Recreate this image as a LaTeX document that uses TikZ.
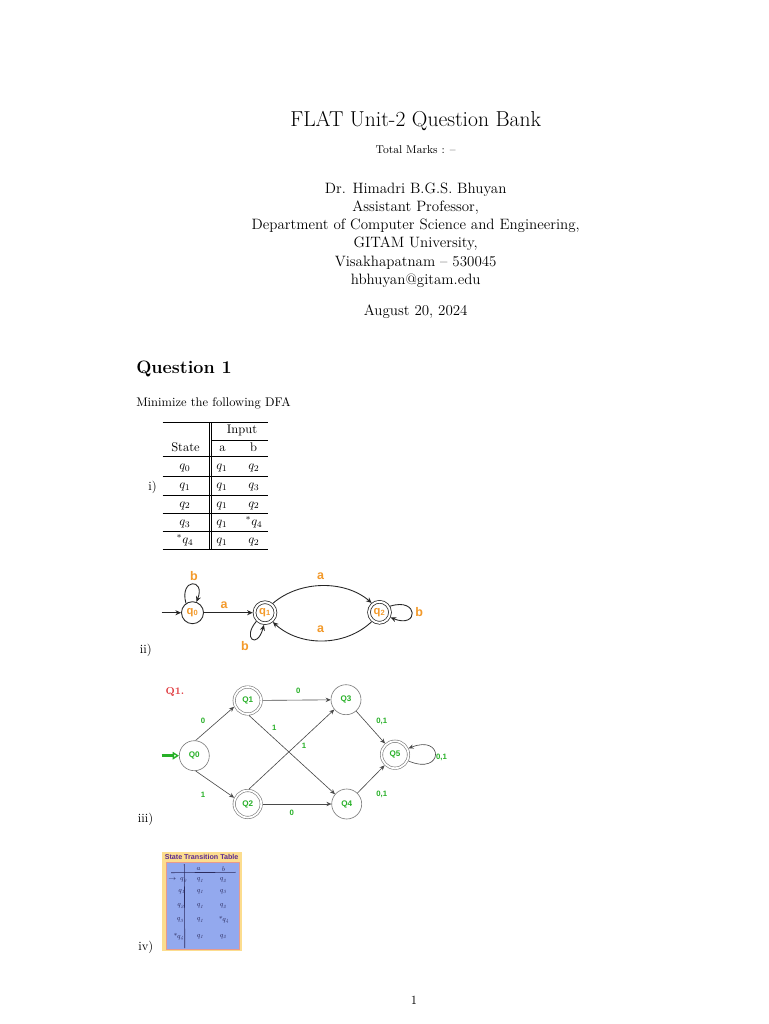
\documentclass[tikz,border=0pt]{standalone}
\usepackage{fontspec}
\newfontfamily\sansA{Liberation Sans}
\usetikzlibrary{arrows.meta}
\definecolor{orng}{HTML}{F39A2B}
\definecolor{grn}{HTML}{27B027}
\definecolor{redq}{HTML}{E0393E}
\definecolor{ylw}{HTML}{FCDD8E}
\definecolor{blu}{HTML}{93A9EE}
\definecolor{purp}{HTML}{5B2A8E}
\definecolor{ink}{HTML}{2B2B5E}
\definecolor{pinkb}{HTML}{E99A8A}
\definecolor{gryc}{HTML}{7C7C7C}
\definecolor{edgeg}{HTML}{4A4A4A}
\begin{document}
\begin{tikzpicture}[x=0.8pt,y=-0.8pt,
  txt/.style={inner sep=0pt, anchor=base},
  txtl/.style={inner sep=0pt, anchor=base west},
  txtr/.style={inner sep=0pt, anchor=base east},
  thinrule/.style={line width=0.5pt},
  thickrule/.style={line width=0.8pt},
  stA/.style={circle, draw=black!85, fill=white, line width=0.7pt, minimum size=17.6pt, inner sep=0pt, font=\sansA\bfseries\fontsize{9}{9}\selectfont, text=orng},
  accA/.style={stA, minimum size=16.8pt, double=white, double distance=1.6pt, line width=0.6pt, outer sep=1.4pt},
  arrA/.style={draw=black!85, line width=0.7pt, -{Stealth[length=4.5pt,width=4pt]}},
  lblA/.style={inner sep=0pt, font=\sansA\bfseries\fontsize{10}{10}\selectfont, text=orng},
  stB/.style={circle, draw=gryc, fill=white, line width=0.5pt, minimum size=24pt, inner sep=0pt, font=\sansA\bfseries\fontsize{6.5}{6.5}\selectfont, text=grn},
  accB/.style={stB, minimum size=21.6pt, double=white, double distance=1.4pt, outer sep=1.2pt},
  arrB/.style={draw=edgeg, line width=0.5pt, -{Stealth[length=4pt,width=3.5pt]}},
  lblB/.style={inner sep=0pt, font=\sansA\bfseries\fontsize{6.2}{6.2}\selectfont, text=grn},
  hand/.style={inner sep=0pt, font=\itshape\fontsize{5.5}{5.5}\selectfont, text=ink},
]
\useasboundingbox (0,0) rectangle (768,1024);
\fill[white] (0,0) rectangle (768,1024);

% ---------- title block ----------
\node[txt, font=\fontsize{17.28}{21}\selectfont] (title) at (415.7,126.7) {FLAT Unit-2 Question Bank};
\node[txt, font=\fontsize{9}{11}\selectfont] (marks) at (415.7,154) {Total Marks : \textendash};
\node[txt, font=\fontsize{12}{14.5}\selectfont] (au1) at (415.7,193.3) {Dr. Himadri B.G.S. Bhuyan};
\node[txt, font=\fontsize{12}{14.5}\selectfont] (au2) at (415.7,211.5) {Assistant Professor,};
\node[txt, font=\fontsize{12}{14.5}\selectfont] (au3) at (415.7,229.7) {Department of Computer Science and Engineering,};
\node[txt, font=\fontsize{12}{14.5}\selectfont] (au4) at (415.7,247.9) {GITAM University,};
\node[txt, font=\fontsize{12}{14.5}\selectfont] (au5) at (415.7,266.1) {Visakhapatnam \textendash\ 530045};
\node[txt, font=\fontsize{12}{14.5}\selectfont] (au6) at (415.7,284.3) {hbhuyan@gitam.edu};
\node[txt, font=\fontsize{12}{14.5}\selectfont] (date) at (415.7,315) {August 20, 2024};

\node[txtl, font=\bfseries\fontsize{14.4}{17}\selectfont] (qhead) at (136,373.3) {Question 1};
\node[txtl, font=\fontsize{10}{12}\selectfont] (qtext) at (136,406.7) {Minimize the following DFA};

% ---------- i) table ----------
\node[txtr, font=\fontsize{10}{12}\selectfont] (li) at (157,490.5) {i)};
\draw[thickrule] (162.7,422.3) -- (268,422.3);
\draw[thinrule] (211.7,440) -- (268,440);
\draw[thinrule] (162.7,456.7) -- (268,456.7);
\foreach \yy in {476,495,513.3,531.3} {\draw[thinrule] (162.7,\yy) -- (268,\yy);}
\draw[thickrule] (162.7,549) -- (268,549);
\draw[thinrule] (209,422.3) -- (209,549);
\draw[thinrule] (211.3,422.3) -- (211.3,549);
\begin{scope}[every node/.style={txt, font=\fontsize{10}{12}\selectfont}]
\node (hin) at (242,433.7) {Input};
\node (hst) at (185.5,451.5) {State};
\node (ha) at (222.5,451.5) {a};
\node (hb) at (253.5,451.5) {b};
\node (r0s) at (185,469.8) {$q_0$}; \node (r0a) at (222,469.8) {$q_1$}; \node (r0b) at (254,469.8) {$q_2$};
\node (r1s) at (185,488.8) {$q_1$}; \node (r1a) at (222,488.8) {$q_1$}; \node (r1b) at (254,488.8) {$q_3$};
\node (r2s) at (185,507) {$q_2$}; \node (r2a) at (222,507) {$q_1$}; \node (r2b) at (254,507) {$q_2$};
\node (r3s) at (185,525.2) {$q_3$}; \node (r3a) at (222,525.2) {$q_1$}; \node (r3b) at (254,525.2) {${}^*q_4$};
\node (r4s) at (185,543.4) {${}^*q_4$}; \node (r4a) at (222,543.4) {$q_1$}; \node (r4b) at (254,543.4) {$q_2$};
\end{scope}

% ---------- ii) diagram ----------
\node[txtr, font=\fontsize{10}{12}\selectfont] (lii) at (152,653) {ii)};
\node[stA] (q0) at (192.5,612.7) {q\textsubscript{0}};
\node[accA] (q1) at (265,612.7) {q\textsubscript{1}};
\node[accA] (q2) at (379.5,612.3) {q\textsubscript{2}};
\coordinate (inA) at (161.5,612.7);
\draw[arrA] (inA) -- (q0);
\draw[arrA] (q0) -- (q1);
\draw[arrA] (q1.50) .. controls (300,580) and (345,580) .. (q2.130);
\draw[arrA] (q2.230) .. controls (345,647) and (300,647) .. (q1.310);
\draw[arrA] (q0.125) .. controls (179,578) and (206,578) .. (q0.70);
\draw[arrA] (q1.225) .. controls (242,638) and (257,650) .. (q1.265);
\draw[arrA] (q2.30) .. controls (419,597) and (419,629) .. (q2.-25);
\node[lblA] (la1) at (194,576) {b};
\node[lblA] (la2) at (224,605) {a};
\node[lblA] (la3) at (320.7,576) {a};
\node[lblA] (la4) at (320.7,629.3) {a};
\node[lblA] (la5) at (245,646) {b};
\node[lblA] (la6) at (419.3,611.7) {b};

% ---------- iii) diagram ----------
\node[txtr, font=\fontsize{10}{12}\selectfont] (liii) at (153.5,822) {iii)};
\node[inner sep=0pt, font=\bfseries\fontsize{8}{8}\selectfont, text=redq] (qlab) at (175,692) {Q1.};
\node[stB] (Q0) at (194.3,755.7) {Q0};
\node[accB] (Q1) at (247.7,700.5) {Q1};
\node[accB] (Q2) at (247.7,804) {Q2};
\node[stB] (Q3) at (346,699.7) {Q3};
\node[stB] (Q4) at (346.7,804) {Q4};
\node[accB] (Q5) at (395,754.7) {Q5};
\coordinate (inB) at (161.7,755.7);
\draw[grn, line width=2.2pt, -{Triangle[open, length=5pt, width=6pt, line width=1.1pt]}] (inB) -- (Q0);
\draw[arrB] (Q0.85) -- (Q1.205);
\draw[arrB] (Q0.-85) -- (Q2.155);
\draw[arrB] (Q1) -- (Q3);
\draw[arrB] (Q1.-85) -- (Q4.140);
\draw[arrB] (Q2.85) -- (Q3.-140);
\draw[arrB] (Q2) -- (Q4);
\draw[arrB] (Q3) -- (Q5);
\draw[arrB] (Q4) -- (Q5);
\draw[arrB] (Q5.-25) .. controls (444,776) and (444,734) .. (Q5.25);
\node[lblB] (lb1) at (203,721) {0};
\node[lblB] (lb2) at (203,794.7) {1};
\node[lblB] (lb3) at (274.3,728) {1};
\node[lblB] (lb4) at (298.3,690.7) {0};
\node[lblB] (lb5) at (291.7,813) {0};
\node[lblB] (lb6) at (304,746.3) {1};
\node[lblB] (lb7) at (381.7,721.3) {0,1};
\node[lblB] (lb8) at (381.7,794.7) {0,1};
\node[lblB] (lb9) at (441.5,757.5) {0,1};

% ---------- iv) image ----------
\node[txtr, font=\fontsize{10}{12}\selectfont] (liv) at (153.5,950.5) {iv)};
\fill[ylw] (161.7,851.7) rectangle (241.5,950.7);
\node[inner sep=0pt, font=\sansA\bfseries\fontsize{5.7}{5.7}\selectfont, text=purp] (ivt) at (201.6,856.7) {State Transition Table};
\filldraw[fill=blu, draw=pinkb, line width=0.8pt] (166.7,862.7) rectangle (239,949.3);
\draw[ink, line width=0.5pt] (171,872.7) -- (235.7,872.3);
\draw[ink, line width=0.5pt] (184.3,864) -- (184.8,948);
\node[hand] (h1) at (198.3,869) {a};
\node[hand] (h2) at (223.3,869) {b};
\node[hand] (h3) at (177.5,880) {$\to$ q\textsubscript{0}};
\node[hand] (h4) at (181.5,891.7) {q\textsubscript{1}};
\node[hand] (h5) at (180.5,906) {q\textsubscript{2}};
\node[hand] (h6) at (180,920) {q\textsubscript{3}};
\node[hand] (h7) at (178.3,936.7) {*q\textsubscript{4}};
\node[hand] (h8) at (200,880) {q\textsubscript{1}};
\node[hand] (h9) at (200,891.7) {q\textsubscript{1}};
\node[hand] (h10) at (200,906) {q\textsubscript{1}};
\node[hand] (h11) at (200,920) {q\textsubscript{1}};
\node[hand] (h12) at (200,936.7) {q\textsubscript{1}};
\node[hand] (h13) at (223,880) {q\textsubscript{2}};
\node[hand] (h14) at (223,891.7) {q\textsubscript{3}};
\node[hand] (h15) at (223,906) {q\textsubscript{2}};
\node[hand] (h16) at (223.5,920) {*q\textsubscript{4}};
\node[hand] (h17) at (223,936.7) {q\textsubscript{2}};

% ---------- page number ----------
\node[txt, font=\fontsize{10}{12}\selectfont] (pg) at (414,1004) {1};
\end{tikzpicture}
\end{document}
